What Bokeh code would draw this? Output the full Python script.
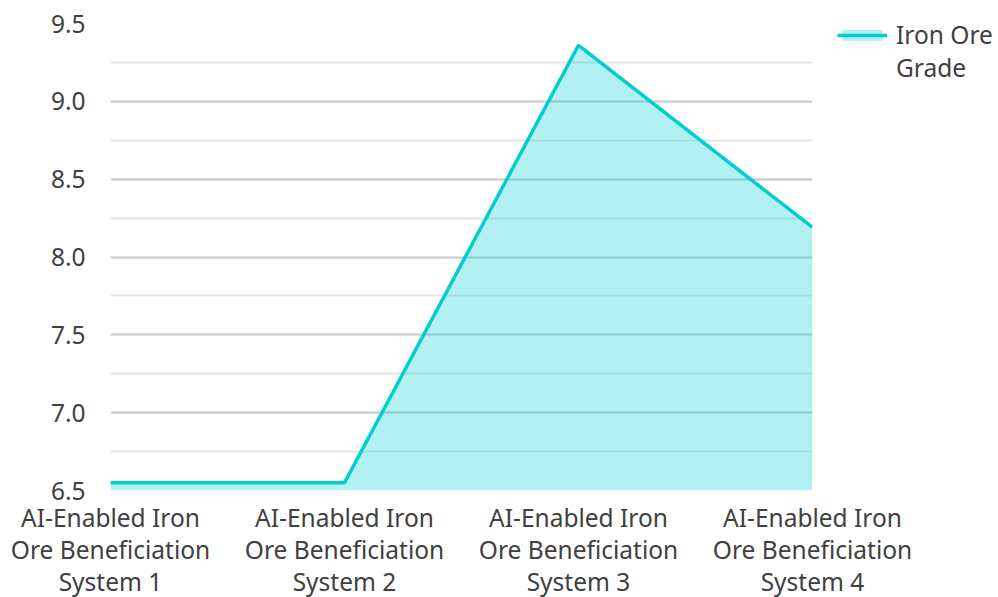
from bokeh.plotting import figure
from bokeh.models import Range1d, FixedTicker, Legend, LegendItem
from bokeh.embed import file_html
from bokeh.resources import INLINE

categories = [
    "AI-Enabled Iron\nOre Beneficiation\nSystem 1",
    "AI-Enabled Iron\nOre Beneficiation\nSystem 2",
    "AI-Enabled Iron\nOre Beneficiation\nSystem 3",
    "AI-Enabled Iron\nOre Beneficiation\nSystem 4",
]
grade = [6.55, 6.55, 9.36, 8.19]
series_name_lines = ["Iron Ore", "Grade"]
y_ticks = [6.5, 7.0, 7.5, 8.0, 8.5, 9.0, 9.5]
y_minor = [6.75, 7.25, 7.75, 8.25, 8.75, 9.25]

xs = list(range(len(categories)))
FONT = "Noto Sans"
TXT = "#404040"
LINE = "#00CED1"

p = figure(frame_width=702, frame_height=467, x_range=Range1d(0, len(categories) - 1),
           y_range=Range1d(6.5, 9.5), output_backend="svg", toolbar_location=None,
           min_border_left=110, min_border_right=186, min_border_top=23,
           min_border_bottom=0)
p.outline_line_color = None
p.background_fill_color = "white"
p.border_fill_color = "white"

# grids
p.xgrid.grid_line_color = None
p.ygrid.ticker = FixedTicker(ticks=y_ticks, minor_ticks=y_minor)
p.ygrid.grid_line_color = "#c8c8c8"
p.ygrid.grid_line_width = 2
p.ygrid.minor_grid_line_color = "#e6e6e6"
p.ygrid.minor_grid_line_width = 2

# axes
p.yaxis.ticker = FixedTicker(ticks=y_ticks, minor_ticks=[])
p.yaxis.major_label_overrides = {t: f"{t:.1f}" for t in y_ticks}
p.xaxis.ticker = FixedTicker(ticks=xs)
p.xaxis.major_label_overrides = {i: c for i, c in enumerate(categories)}
for ax in (p.xaxis[0], p.yaxis[0]):
    ax.axis_line_color = None
    ax.major_tick_line_color = None
    ax.minor_tick_line_color = None
    ax.major_tick_out = 0
    ax.major_tick_in = 0
    ax.major_label_text_font = FONT
    ax.major_label_text_color = TXT
p.yaxis.major_label_text_font_size = "24.5px"
p.xaxis.major_label_text_font_size = "24.5px"
p.xaxis.major_label_text_line_height = 0.98
p.yaxis.major_label_standoff = 25
p.xaxis.major_label_standoff = 10

area = p.varea(x=xs, y1=[6.5] * len(xs), y2=grade, fill_color=LINE, fill_alpha=0.3)
line = p.line(x=xs, y=grade, line_color=LINE, line_width=3.5)
# invisible helper so the legend label can wrap onto a second row
blank = p.line(x=[], y=[], line_alpha=0)

legend = Legend(items=[LegendItem(label=series_name_lines[0], renderers=[area, line]),
                       LegendItem(label=series_name_lines[1], renderers=[blank])],
                location=(25, 406), border_line_color=None,
                background_fill_alpha=0, label_text_font=FONT,
                label_text_font_size="24.5px", label_text_color=TXT,
                glyph_width=50, glyph_height=14, padding=0, margin=0,
                spacing=0, label_standoff=9, label_height=31)
legend.margin = 0
p.add_layout(legend, "right")

open("out.html", "w").write(file_html(p, INLINE))
